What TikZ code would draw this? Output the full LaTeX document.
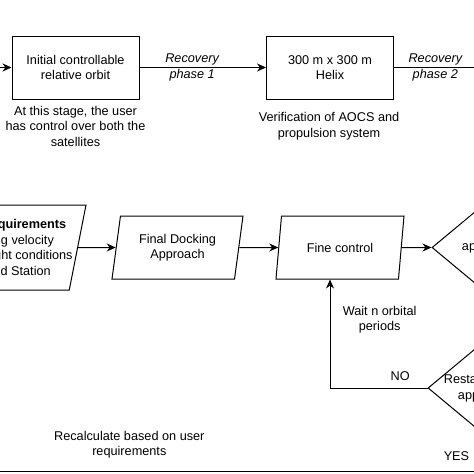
\documentclass[tikz,border=0pt]{standalone}
\usepackage{fontspec}
\setmainfont{Liberation Sans}
\usetikzlibrary{positioning,shapes.geometric,arrows.meta}
\tikzset{arr/.style = {-{Stealth[length=9pt,width=8pt]}}}
\tikzset{box/.style = {draw, minimum width=127pt, minimum height=63pt, align=center}}
\tikzset{slantbox/.style = {draw, trapezium, trapezium stretches body, minimum height=63pt, align=center}}
\tikzset{choice/.style = {draw, diamond, minimum width=120pt, minimum height=100pt, inner sep=0pt}}
\tikzset{phase/.style = {align=center, font=\fontsize{12.7}{16}\selectfont\itshape}}

\begin{document}
\begin{tikzpicture}[x=1pt, y=-1pt, line width=1pt, font=\fontsize{12.7}{15.5}\selectfont]
\useasboundingbox (0,0) rectangle (474,474);
\clip (0,0) rectangle (474,474);
\coordinate (entry) at (-20,67.5);
\coordinate (exit) at (500,67.5);
\node [box] (init) at (75.5,67.5) {Initial controllable\\relative orbit};
\node [box] (helix) at (330,67.5) {300 m x 300 m\\Helix};
\node [align=center] (stage) at (75.5,126) {At this stage, the user\\has control over both the\\satellites};
\node [align=center] (verif) at (329,126) {Verification of AOCS and\\propulsion system};
\draw [arr] (entry) -- (init);
\draw [arr] (init) -- node [phase, pos=.416] {Recovery\\phase 1} (helix);
\draw [arr] (helix) -- node [phase, pos=.39] {Recovery\\phase 2} (exit);

\node [slantbox, trapezium left angle=75, trapezium right angle=105, minimum width=156pt, minimum height=85pt, inner xsep=-10pt] (req) at (8,247.5) {\textbf{User Requirements}\\Docking velocity\\Line of sight conditions\\Ground Station};
\node [slantbox, trapezium left angle=76, trapezium right angle=104, minimum width=131pt] (final) at (177.5,247.5) {Final Docking\\Approach};
\node [slantbox, trapezium left angle=71, trapezium right angle=109, minimum width=128pt] (fine) at (340,247.5) {Fine control};
\node [choice, label={center:approach?}] (approach) at (492,247.5) {};
\node [choice, label={[align=center]center:Restart docking\\approach?}] (restart) at (488,388) {};
\coordinate (turn) at (330,388);
\coordinate (back) at (-100,471);
\draw [arr] (req) -- (final);
\draw [arr] (final) -- (fine);
\draw [arr] (fine) -- (approach);
\draw [arr] (restart.west) -- node [pos=.28, above=4pt] {NO} (turn) -- node [pos=.63, right=9pt, align=center] {Wait n orbital\\periods} (turn |- fine.south);
\draw [arr] (restart.south) -- node [pos=.55, left=15pt] {YES} (restart.south |- back) -- node [pos=.61, above=9pt, align=center] {Recalculate based on user\\requirements} (back) |- (req.west);
\end{tikzpicture}
\end{document}
